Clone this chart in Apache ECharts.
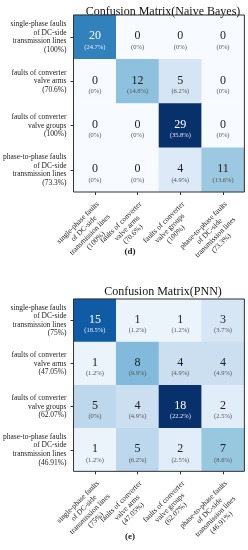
<!DOCTYPE html>
<html>
<head>
<meta charset="utf-8">
<script src="https://cdn.jsdelivr.net/npm/echarts@6/dist/echarts.min.js"></script>
<style>html,body{margin:0;padding:0;background:#fff}#c{width:248px;height:550px}</style>
</head>
<body>
<div id="c"></div>
<script>
const labelsNB = [
  "single-phase faults\nof DC-side\ntransmission lines\n(100%)",
  "faults of converter\nvalve arms\n(70.6%)",
  "faults of converter\nvalve groups\n(100%)",
  "phase-to-phase faults\nof DC-side\ntransmission lines\n(73.3%)"
];
const labelsPNN = [
  "single-phase faults\nof DC-side\ntransmission lines\n(75%)",
  "faults of converter\nvalve arms\n(47.05%)",
  "faults of converter\nvalve groups\n(62.07%)",
  "phase-to-phase faults\nof DC-side\ntransmission lines\n(46.91%)"
];
const countsNB = [
  [20, 0, 0, 0],
  [0, 12, 5, 0],
  [0, 0, 29, 0],
  [0, 0, 4, 11]
];
const pctNB = [
  ["24.7%", "0%", "0%", "0%"],
  ["0%", "14.8%", "6.2%", "0%"],
  ["0%", "0%", "35.8%", "0%"],
  ["0%", "0%", "4.9%", "13.6%"]
];
const countsPNN = [
  [15, 1, 1, 3],
  [1, 8, 4, 4],
  [5, 4, 18, 2],
  [1, 5, 2, 7]
];
const pctPNN = [
  ["18.5%", "1.2%", "1.2%", "3.7%"],
  ["1.2%", "9.9%", "4.9%", "4.9%"],
  ["0%", "4.9%", "22.2%", "2.5%"],
  ["1.2%", "6.2%", "2.5%", "8.6%"]
];
const titles = ["Confusion Matrix(Naive Bayes)", "Confusion Matrix(PNN)"];
const captions = ["(d)", "(e)"];

const blues = ['#f7fbff','#deebf7','#c6dbef','#9ecae1','#6baed6','#4292c6','#2171b5','#08519c','#08306b'];
const FONT = '"Liberation Serif", "DejaVu Serif", serif';

function buildData(counts, pcts) {
  const max = Math.max(...counts.flat());
  const out = [];
  counts.forEach((row, r) => row.forEach((v, c) => {
    const dark = v > max / 2;
    out.push({
      value: [c, r, v],
      label: {
        formatter: '{n|' + v + '}\n{p|(' + pcts[r][c] + ')}',
        offset: [0, 3],
        rich: {
          n: { fontFamily: FONT, fontSize: 12, lineHeight: 14, color: dark ? '#fff' : '#222' },
          p: { fontFamily: FONT, fontSize: 6.5, lineHeight: 8, color: dark ? '#e4ecf5' : '#555' }
        }
      }
    });
  }));
  return { data: out, max };
}
const d0 = buildData(countsNB, pctNB);
const d1 = buildData(countsPNN, pctPNN);

const grids = [
  { left: 70, top: 15, width: 177, height: 177 },
  { left: 70, top: 299, width: 177, height: 174 }
].map(g => Object.assign(g, { show: true, z: 10, backgroundColor: 'transparent', borderColor: '#333', borderWidth: 1, containLabel: false }));

function xFmt(s) {
  return s.split('\n').map(l => '{l|' + l + '}').join('\n');
}
function xAx(i, labels) {
  return {
    type: 'category', gridIndex: i, data: labels, position: 'bottom',
    axisLine: { show: false },
    axisTick: { show: true, alignWithLabel: true, length: 3, lineStyle: { color: '#333' } },
    splitLine: { show: false },
    axisLabel: {
      rotate: 45, interval: 0, margin: 8, align: 'right', verticalAlign: 'top',
      formatter: xFmt,
      rich: { l: { fontFamily: FONT, fontSize: 7.5, lineHeight: 8.4, color: '#222', align: 'center' } }
    }
  };
}
function yAx(i, labels) {
  return {
    type: 'category', gridIndex: i, data: labels, inverse: true,
    axisLine: { show: false },
    axisTick: { show: true, alignWithLabel: true, length: 3, lineStyle: { color: '#333' } },
    splitLine: { show: false },
    axisLabel: { interval: 0, margin: 7, fontFamily: FONT, fontSize: 7.5, lineHeight: 8.6, color: '#222', align: 'right' }
  };
}

const option = {
  animation: false,
  backgroundColor: '#fff',
  title: [
    { text: titles[0], left: 158, top: 1, textAlign: 'center', textStyle: { fontFamily: FONT, fontWeight: 'normal', fontSize: 12, color: '#111' } },
    { text: titles[1], left: 158, top: 281, textAlign: 'center', textStyle: { fontFamily: FONT, fontWeight: 'normal', fontSize: 12, color: '#111' } },
    { text: captions[0], left: 125, top: 242, textAlign: 'center', textStyle: { fontFamily: FONT, fontWeight: 'bold', fontSize: 9, color: '#222' } },
    { text: captions[1], left: 125, top: 527, textAlign: 'center', textStyle: { fontFamily: FONT, fontWeight: 'bold', fontSize: 9, color: '#222' } }
  ],
  grid: grids,
  xAxis: [xAx(0, labelsNB), xAx(1, labelsPNN)],
  yAxis: [yAx(0, labelsNB), yAx(1, labelsPNN)],
  visualMap: [
    { show: false, seriesIndex: 0, min: 0, max: d0.max, dimension: 2, inRange: { color: blues } },
    { show: false, seriesIndex: 1, min: 0, max: d1.max, dimension: 2, inRange: { color: blues } }
  ],
  series: [
    { type: 'heatmap', xAxisIndex: 0, yAxisIndex: 0, data: d0.data, label: { show: true }, itemStyle: { borderWidth: 0 } },
    { type: 'heatmap', xAxisIndex: 1, yAxisIndex: 1, data: d1.data, label: { show: true }, itemStyle: { borderWidth: 0 } }
  ]
};
const chart = echarts.init(document.getElementById('c'), null, { renderer: 'canvas' });
chart.setOption(option);
</script>
</body>
</html>
